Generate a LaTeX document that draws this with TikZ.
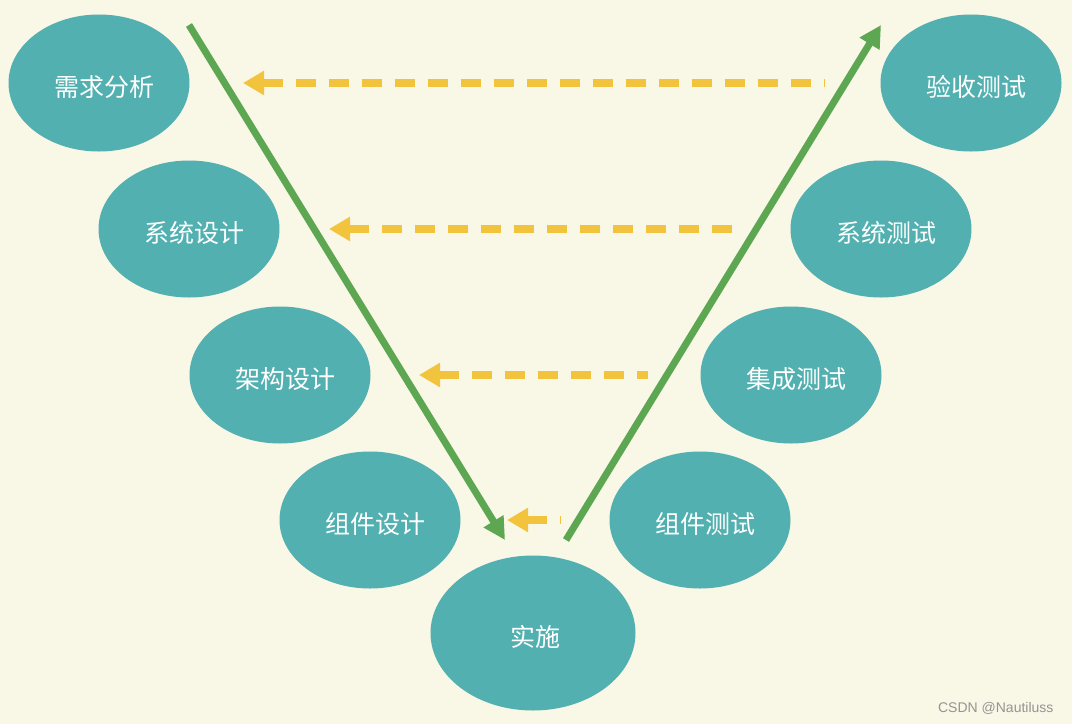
\documentclass[tikz,border=0pt]{standalone}
\usepackage{fontspec}
\newfontfamily\cjk{Noto Sans CJK SC}
\newfontfamily\wmark{Liberation Sans}
\usepackage{tikz}
\usetikzlibrary{arrows.meta,shapes.geometric}
\definecolor{paper}{HTML}{F9F7E6}
\definecolor{teal}{HTML}{52B0B0}
\definecolor{vgreen}{HTML}{5EA752}
\definecolor{vyellow}{HTML}{F2C33C}
\tikzset{phase/.style={ellipse,fill=teal,text=white,minimum width=181pt,minimum height=137pt,inner sep=0pt,text height=27pt,text depth=0pt,font=\cjk\fontsize{25}{25}\selectfont},flow/.style={vgreen,line width=7pt,-{Triangle[length=22pt,width=22pt]}},link/.style={vyellow,line width=7.5pt,dash pattern=on 20pt off 13pt,{Triangle[length=21pt,width=23pt]}-}}

\begin{document}
\begin{tikzpicture}[x=1pt,y=-1pt]
\fill[paper] (0,0) rectangle (1072,724);
\useasboundingbox (0,0) rectangle (1072,724);
\foreach \n/\x/\y/\t in {req/99/83/需求分析,sysd/189/229/系统设计,arch/280/375/架构设计,compd/370/520/组件设计,compt/700/520/组件测试,integ/791/375/集成测试,syst/881/229/系统测试,accept/971/83/验收测试}{\node[phase] (\n) at (\x,\y) {\hspace*{10pt}\t};}
\node[phase,minimum width=205pt,minimum height=155pt] (impl) at (533,633) {\hspace*{5pt}实施};
% V arms
\coordinate (dtop) at (189,25);
\coordinate (dbot) at (505,540);
\coordinate (ubot) at (566,540);
\coordinate (utop) at (881,25);
\draw[flow] (dtop)--(dbot);
\draw[flow] (ubot)--(utop);
% verification links
\foreach \i/\a/\b/\y in {1/243/824/83,2/329/740/229,3/419/648/375,4/507/560/520}{\coordinate (l\i) at (\a,\y); \coordinate (r\i) at (\b,\y); \draw[link] (l\i)--(r\i);}
\node[anchor=east,text=black!42,font=\wmark\fontsize{14}{14}\selectfont] (mark) at (1057,708) {CSDN @Nautiluss};
\end{tikzpicture}
\end{document}
